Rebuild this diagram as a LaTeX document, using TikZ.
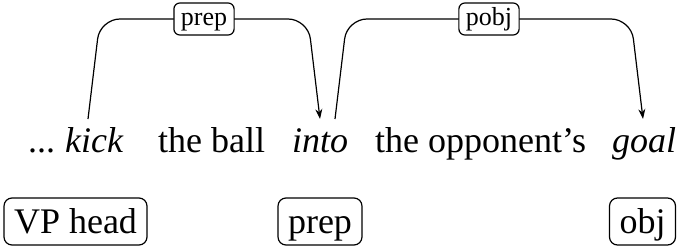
\documentclass[tikz,border=0pt]{standalone}
\usepackage{fontspec}
\setmainfont{Liberation Serif}
\usetikzlibrary{arrows.meta}
\begin{document}
\begin{tikzpicture}[x=1pt,y=-1pt,
  word/.style={inner sep=0pt,anchor=base west,font=\fontsize{36}{40}\selectfont},
  lab/.style={draw,line width=1.2pt,rounded corners=6pt,fill=white,font=\fontsize{26}{28}\selectfont,
    inner xsep=7pt,inner ysep=2.5pt,text height=20pt,text depth=7pt},
  tagbox/.style={draw,line width=1.2pt,rounded corners=8pt,font=\fontsize{36}{40}\selectfont,
    inner xsep=10pt,inner ysep=4pt,text height=31pt,text depth=8pt},
  deparc/.style={line width=1.2pt,rounded corners=20pt,-{Stealth[length=10pt,width=7pt]}}]
\useasboundingbox (0,0) rectangle (682,249);
% words
\node[word] (dots) at (28,152) {...};
\node[word] (kick) at (65,152) {\itshape kick};
\node[word] (ball) at (158,152) {the ball};
\node[word] (into) at (292,152) {\itshape into};
\node[word] (opp) at (375,152) {the opponent’s};
\node[word] (goal) at (612,152) {\itshape goal};
% arc anchors
\coordinate (k0) at (88,119);
\coordinate (k1) at (100,19);
\coordinate (k2) at (308,19);
\coordinate (i0) at (320,119);
\coordinate (j0) at (335,119);
\coordinate (j1) at (347,19);
\coordinate (j2) at (631,19);
\coordinate (g0) at (643,119);
\draw[deparc] (k0) -- (k1) -- node[lab] (lprep) {prep} (k2) -- (i0);
\draw[deparc] (j0) -- (j1) -- node[lab] (lpobj) {pobj} (j2) -- (g0);
% tag boxes
\node[tagbox] (vp) at (75.5,221.5) {VP head};
\node[tagbox] (pr) at (320,221.5) {prep};
\node[tagbox,minimum width=61pt] (ob) at (642.5,221.5) {obj};
\end{tikzpicture}
\end{document}
